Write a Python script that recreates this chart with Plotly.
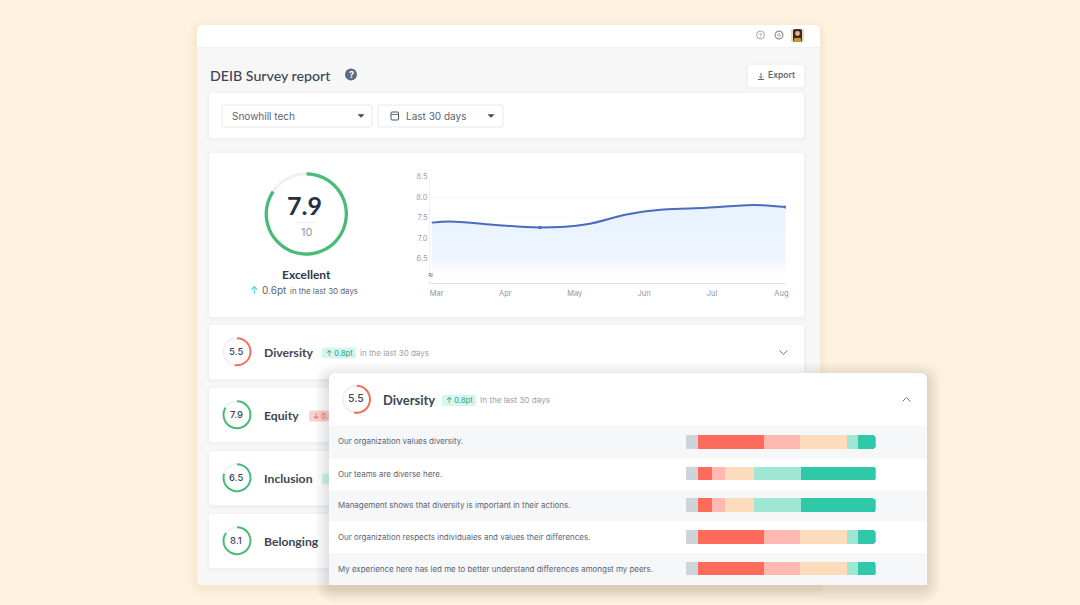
import plotly.graph_objects as go

W, H = 1080, 605

# line chart values
months = ["Mar", "Apr", "May", "Jun", "Jul", "Aug"]
month_ticks = [0.07, 1.04, 2.02, 3.0, 3.96, 4.94]
score_ticks = [6.5, 7.0, 7.5, 8.0, 8.5]
trend_x = [0, 0.26, 0.87, 1.53, 2.19, 2.75, 3.27, 3.88, 4.54, 5]
trend_y = [7.38, 7.41, 7.33, 7.26, 7.34, 7.58, 7.70, 7.74, 7.81, 7.76]
marked_x = [1.53, 5]
marked_y = [7.26, 7.76]

# stacked bars
questions = [
    "Our organization values diversity.",
    "Our teams are diverse here.",
    "Management shows that diversity is important in their actions.",
    "Our organization respects individuales and values their differences.",
    "My experience here has led me to better understand differences amongst my peers.",
]
no_answer = [6.5, 6.5, 6.5, 6.5, 6.5]
strong_neg = [34.9, 7.2, 7.2, 34.9, 34.9]
neg = [18.6, 7.2, 7.2, 18.6, 18.6]
neutral = [24.7, 15.1, 15.1, 24.7, 24.7]
pos = [5.8, 24.7, 24.7, 5.8, 5.8]
strong_pos = [9.5, 39.3, 39.3, 9.5, 9.5]
segments = [no_answer, strong_neg, neg, neutral, pos, strong_pos]
segment_colors = ["#cfd3da", "#ff6b5b", "#ffb9b0", "#fddcbc", "#9fe6d5", "#2fc8a9"]

# gauges: label shown, share of the ring drawn
dimensions = ["Diversity", "Equity", "Inclusion", "Belonging"]
dimension_scores = ["5.5", "7.9", "6.5", "8.1"]
dimension_arcs = [5.3, 8.4, 8.0, 8.5]
overall_score = "7.9"
overall_arc = 8.45

GREEN = "#48bb78"
RED = "#f0705c"
TRACK = "#f0f1f3"
DARK = "#2f3a4c"
GREY = "#98a0ac"
BODY = "#5a6472"
TITLE_FONT = "Lato"
TEXT_FONT = "Inter"

shapes = []
notes = []


def fx(x):
    return x / W


def fy(y):
    return 1 - y / H


def rounded(x0, y0, x1, y1, r, color, top_only=False, opacity=1, line=None):
    rb = 0 if top_only else r
    p = f"M {fx(x0 + r)} {fy(y0)} L {fx(x1 - r)} {fy(y0)} Q {fx(x1)} {fy(y0)} {fx(x1)} {fy(y0 + r)} "
    p += f"L {fx(x1)} {fy(y1 - rb)} Q {fx(x1)} {fy(y1)} {fx(x1 - rb)} {fy(y1)} "
    p += f"L {fx(x0 + rb)} {fy(y1)} Q {fx(x0)} {fy(y1)} {fx(x0)} {fy(y1 - rb)} "
    p += f"L {fx(x0)} {fy(y0 + r)} Q {fx(x0)} {fy(y0)} {fx(x0 + r)} {fy(y0)} Z"
    shapes.append(dict(type="path", path=p, xref="paper", yref="paper", fillcolor=color,
                       opacity=opacity, layer="below",
                       line=dict(width=1 if line else 0, color=line or color)))


def shadow(x0, y0, x1, y1, r, spread, color, alpha, dy=0):
    for i in range(spread, 0, -1):
        rounded(x0 - i, y0 - i + dy, x1 + i, y1 + i + dy, r + i, color, opacity=alpha)


def card(x0, y0, x1, y1, r=3):
    shadow(x0, y0, x1, y1, r, 3, "#8a93a3", 0.015, 1)
    rounded(x0, y0, x1, y1, r, "#ffffff")


def stroke(points, color, width=1, fill=None):
    p = "M " + " L ".join(f"{fx(x)} {fy(y)}" for x, y in points)
    if fill:
        p += " Z"
    shapes.append(dict(type="path", path=p, xref="paper", yref="paper", layer="below",
                       fillcolor=fill or "rgba(0,0,0,0)", line=dict(color=color, width=width)))


def circle(cx, cy, r, line=None, fill=None, width=1):
    shapes.append(dict(type="circle", xref="paper", yref="paper", layer="below",
                       x0=fx(cx - r), x1=fx(cx + r), y0=fy(cy + r), y1=fy(cy - r),
                       fillcolor=fill or "rgba(0,0,0,0)",
                       line=dict(color=line or "rgba(0,0,0,0)", width=width)))


def label(x, y, text, size, color=BODY, anchor="left", font=TEXT_FONT, weight=400):
    # annotations sit about a pixel inside their anchor
    if anchor == "left":
        x -= 1
    notes.append(dict(x=fx(x), y=fy(y), xref="paper", yref="paper", text=text, showarrow=False,
                      xanchor=anchor, yanchor="middle", borderpad=0,
                      font=dict(size=size, color=color, family=font, weight=weight)))


def gauge(cx, cy, r, arc, color, thick):
    return go.Pie(values=[arc, 10 - arc], sort=False, direction="clockwise", rotation=0,
                  hole=1 - thick / r, textinfo="none", hoverinfo="skip", showlegend=False,
                  marker=dict(colors=[color, TRACK], line=dict(width=0)),
                  domain=dict(x=[fx(cx - r), fx(cx + r)], y=[fy(cy + r), fy(cy - r)]))


def badge(x0, x1, cy, color, text=None, text_color=None):
    rounded(x0, cy - 5.6, x1, cy + 5.6, 2, color)
    if text:
        label(x0 + 4, cy, text, 7.5, text_color)


fig = go.Figure()

# app window
shadow(197, 25, 820, 585, 7, 8, "#a08a70", 0.012, 3)
rounded(197, 25, 820, 585, 6, "#f7f7f8")
rounded(197, 25, 820, 47, 6, "#ffffff", top_only=True)
stroke([(197, 47.5), (820, 47.5)], "#f1f1f3")

# top bar icons
circle(760.5, 35, 4, line="#8b93a0", width=0.8)
label(760.5, 35, "?", 6, "#8b93a0", "center")
circle(779, 35, 3.9, line="#8b93a0", width=1.2)
circle(779, 35, 1.4, line="#8b93a0", width=0.7)
rounded(791, 29, 804, 42, 1, "#efd9c2")
rounded(793, 29, 802, 42, 2, "#3a2a22")
circle(797.5, 33.5, 2.4, fill="#e8b08e")
rounded(794, 38, 801, 42, 1, "#c29a2e")

# heading row
label(210, 76, "DEIB Survey report", 14.2, "#3b4656", font=TITLE_FONT, weight=500)
circle(351, 74.5, 6, fill="#5f6c7d")
label(351, 74.5, "?", 9, "#ffffff", "center", weight=700)
card(748, 65, 804, 87)
stroke([(761, 73), (761, 78)], "#5f6873", 1)
stroke([(759, 76.5), (761, 78.5), (763, 76.5)], "#5f6873", 0.8)
stroke([(758, 79.5), (764, 79.5)], "#5f6873", 1)
label(768, 75, "Export", 8.5, "#5f6873", weight=600)

# filter row
card(209, 93, 804, 138)
rounded(222, 105, 372, 127, 2, "#ffffff", line="#e6e8ec")
label(232, 116, "Snowhill tech", 10)
stroke([(358, 114.5), (364, 114.5), (361, 117.5)], "#3f4854", 0.5, fill="#3f4854")
rounded(378, 105, 503, 127, 2, "#ffffff", line="#e6e8ec")
rounded(391, 112, 398.5, 120, 1, "#ffffff", line="#4a5462")
stroke([(391, 114.5), (398.5, 114.5)], "#4a5462", 0.8)
label(405.5, 116, "Last 30 days", 10)
stroke([(488, 114.5), (494, 114.5), (491, 117.5)], "#3f4854", 0.5, fill="#3f4854")

# overview card
card(209, 153, 804, 317)
fig.add_trace(gauge(306.3, 214, 41.7, overall_arc, GREEN, 3.3))
label(304, 205.5, overall_score, 25, "#253044", "center", font=TITLE_FONT, weight=700)
stroke([(296, 222.5), (316, 222.5)], "#e6e8ec", 0.8)
label(306, 232, "10", 11, "#8f97a3", "center")
label(306, 274, "Excellent", 12, DARK, "center", font=TITLE_FONT, weight=700)
label(254, 289.5, "↑", 10, "#35c4a5", "center")
label(262, 290, "0.6pt", 10, BODY)
label(289.5, 291, "in the last 30 days", 7.9, BODY)

# trend chart
fig.add_trace(go.Scatter(x=trend_x, y=[5.9] * len(trend_x), mode="lines", line=dict(width=0),
                         xaxis="x", yaxis="y", hoverinfo="skip", showlegend=False))
fig.add_trace(go.Scatter(x=trend_x, y=trend_y, mode="lines", line=dict(color="#4a6cbc", width=2, shape="spline"),
                         fill="tonexty", xaxis="x", yaxis="y", showlegend=False,
                         fillgradient=dict(type="vertical", start=7.6, stop=6.1,
                                           colorscale=[[0, "#e9f2fe"], [0.7, "#eef5fe"], [1, "#ffffff"]])))
fig.add_trace(go.Scatter(x=marked_x, y=marked_y, mode="markers", marker=dict(color="#4a6cbc", size=3.5),
                         xaxis="x", yaxis="y", showlegend=False))
label(430.5, 274, "≈", 8, "#6f7782", "center")

# dimension cards
card_rows = [(325, 379), (388, 442), (451, 505), (514, 568)]
for name, score, arc, (top, bottom) in zip(dimensions, dimension_scores, dimension_arcs, card_rows):
    cy = (top + bottom) / 2
    card(209, top, 804, bottom)
    fig.add_trace(gauge(237, cy - 0.3, 14.5, arc, RED if name == "Diversity" else GREEN, 2))
    label(236.3, cy - 0.8, score, 9.5, "#3b4656", "center", weight=500)
    label(264, cy + 0.3, name, 12.2, "#3b4656", font=TITLE_FONT, weight=700)

badge(322, 356, 353, "#d5f6ee", "↑ 0.8pt", "#2a9d84")
label(360, 353, "in the last 30 days", 8, GREY)
stroke([(779.5, 350.5), (783.5, 354.5), (787.5, 350.5)], "#6d7582", 1)
badge(309, 329, 416, "#fbd3cd", "↓ 0.", "#d9604f")
badge(322, 329, 479, "#d5f6ee")

# overlay card
shadow(329, 373, 927, 585, 8, 14, "#7d6a50", 0.012, 4)
rounded(329, 373, 927, 585, 7, "#ffffff", top_only=True)
fig.add_trace(gauge(356.5, 399.3, 14.5, dimension_arcs[0], RED, 2))
label(355.7, 398, dimension_scores[0], 10.5, "#3b4656", "center", weight=500)
label(383, 399.8, dimensions[0], 13, "#3b4656", font=TITLE_FONT, weight=700)
badge(441.7, 476, 400.3, "#d5f6ee", "↑ 0.8pt", "#2a9d84")
label(480, 399.8, "In the last 30 days", 8.1, GREY)
stroke([(902.5, 401.5), (906.5, 397.5), (910.5, 401.5)], "#6d7582", 1)

row_edges = [(425.5, 458), (458, 490), (490, 521.5), (521.5, 553), (553, 585)]
for i, (question, (top, bottom)) in enumerate(zip(questions, row_edges)):
    if i % 2 == 0:
        shapes.append(dict(type="rect", xref="paper", yref="paper", layer="below",
                           x0=fx(329), x1=fx(927), y0=fy(bottom), y1=fy(top),
                           fillcolor="#f5f7f9", line=dict(width=0)))
    label(338, (top + bottom) / 2 - 0.5, question, 7.95, BODY)

for values, color in zip(segments, segment_colors):
    fig.add_trace(go.Bar(y=questions, x=values, orientation="h", marker=dict(color=color, line=dict(width=0)),
                         xaxis="x2", yaxis="y2", showlegend=False, hoverinfo="x"))

fig.update_layout(
    width=W, height=H, margin=dict(l=0, r=0, t=0, b=0, autoexpand=False),
    paper_bgcolor="#fef1e0", plot_bgcolor="rgba(0,0,0,0)",
    barmode="stack", bargap=0.57, barcornerradius=3,
    shapes=shapes, annotations=notes,
    xaxis=dict(domain=[fx(430), fx(785.7)], range=[-0.024, 5], tickvals=month_ticks, ticktext=months,
               showgrid=False, zeroline=False, showline=True, linecolor="#dfe3ee", linewidth=1,
               ticks="outside", ticklen=3, tickcolor="rgba(0,0,0,0)",
               tickfont=dict(size=7.5, color="#8f97a3", family=TEXT_FONT), anchor="y", fixedrange=True),
    yaxis=dict(domain=[fy(283.3), fy(176.7)], range=[5.9, 8.5], tickvals=score_ticks,
               tickfont=dict(size=7.5, color="#9aa1ac", family=TEXT_FONT), gridcolor="#f9f9fb", gridwidth=1,
               zeroline=False, showline=True, linecolor="#f0f1f4", linewidth=1, ticks="", anchor="x",
               tickformat=".1f", fixedrange=True),
    xaxis2=dict(domain=[fx(685.7), fx(875.7)], range=[0, 100], visible=False, anchor="y2", fixedrange=True),
    yaxis2=dict(domain=[fy(584.5), fy(426)], autorange="reversed", visible=False, anchor="x2", fixedrange=True),
)

fig.write_html("out.html", config=dict(displayModeBar=False),
               post_script="document.body.style.margin='0';")
